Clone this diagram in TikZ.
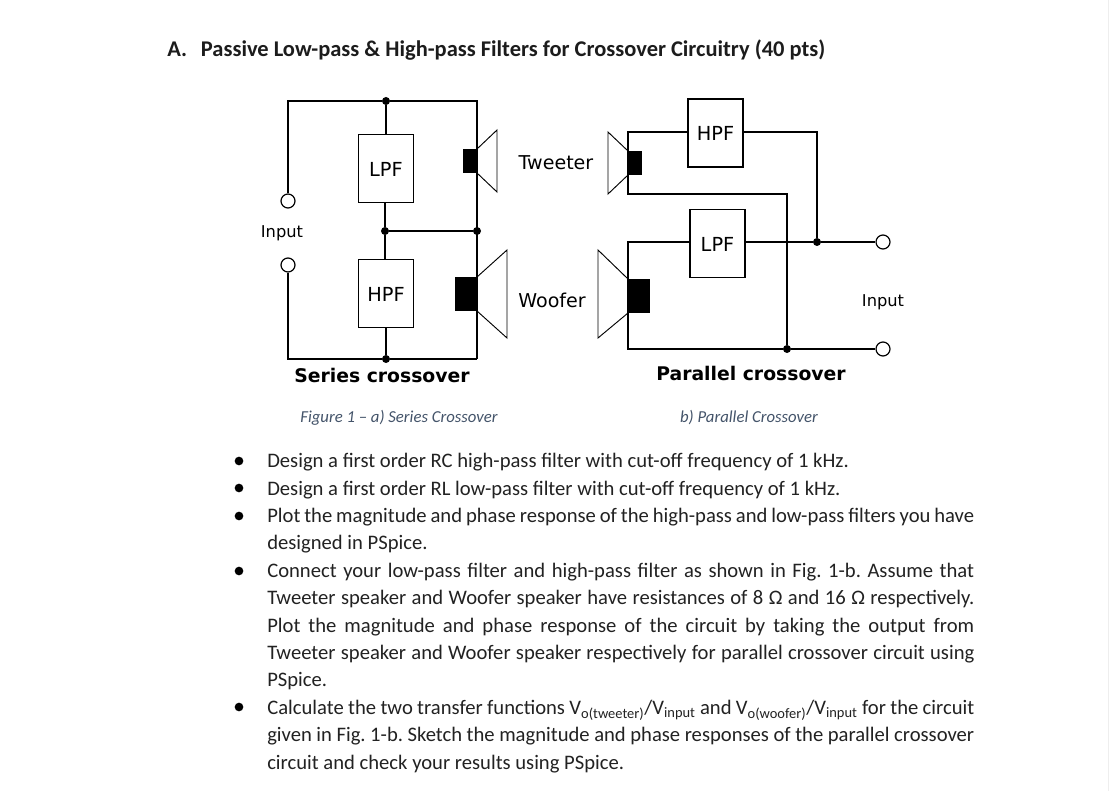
\documentclass[tikz,border=0pt]{standalone}
\usepackage{fontspec}
\setmainfont{Carlito}
\newfontfamily\circuitfont{DejaVu Sans}
\usepackage{xcolor}
\definecolor{cHead}{HTML}{1C1C1C}
\definecolor{cCaption}{HTML}{44546A}
\definecolor{cBody}{HTML}{222222}
\definecolor{cEdge}{HTML}{EEEEEE}
\usetikzlibrary{positioning}
\tikzset{
  wire/.style={line width=1.1pt,draw=black},
  wire-thin/.style={line width=0.8pt,draw=black},
  cone/.style={line width=0.7pt,draw=black},
  magnet/.style={fill=black},
  filter-box/.style={draw=black,line width=1.1pt,minimum width=41pt,minimum height=51pt,
    inner sep=0pt,text height=11.5pt,font=\circuitfont\fontsize{14.5}{16}\selectfont},
  terminal/.style={draw=black,line width=0.9pt,circle,fill=white,minimum size=10.5pt,inner sep=0pt},
  junction/.style={fill=black,circle,minimum size=6pt,inner sep=0pt},
  circuit-label/.style={font=\circuitfont\fontsize{14.3}{16}\selectfont},
  input-label/.style={font=\circuitfont\fontsize{12.2}{14}\selectfont},
  circuit-title/.style={font=\circuitfont\bfseries\fontsize{14.1}{16}\selectfont},
  fig-caption/.style={font=\itshape\fontsize{12.55}{15}\selectfont,text=cCaption},
  bullet-dot/.style={fill=black,circle,minimum size=6.5pt,inner sep=0pt},
  bullet-text/.style={anchor=north west,text width=530.25pt,align=justify,inner sep=0pt,
    text=cBody,font=\frenchspacing\fontsize{15.47}{20.5}\selectfont},
}
\begin{document}
\begin{tikzpicture}[x=0.75pt,y=-0.75pt]
  \useasboundingbox (0,0) rectangle (1109,791);
  \fill[white] (0,0) rectangle (1109,791);
  \draw[cEdge,line width=0.75pt] (1108.5,0) -- (1108.5,791);
  % heading
  \node[anchor=base west,inner sep=0pt,text=cHead,font=\bfseries\fontsize{16.85}{20}\selectfont] (heading) at (167,57)
    {A.\hspace{0.62em}Passive Low-pass \& High-pass Filters for Crossover Circuitry (40 pts)};
  % series crossover
  \node[filter-box] (lpf-s) at (386,168.5) {LPF};
  \node[filter-box] (hpf-s) at (386,293.5) {HPF};
  \node[junction] (s-top) at (386,101) {};
  \node[junction] (s-mid) at (385,231) {};
  \node[junction] (s-right) at (477,231) {};
  \node[junction] (s-bot) at (386,359) {};
  \node[terminal] (s-in-a) at (288,201) {};
  \node[terminal] (s-in-b) at (288,265) {};
  \coordinate (s-tr) at (477,101);
  \coordinate (s-br) at (477,359);
  \draw[wire] (s-in-a) |- (s-top);
  \draw[wire-thin] (s-top) -- (s-tr) -- (s-br);
  \draw[wire] (s-br) -- (s-bot) -| (s-in-b);
  \draw[wire] (s-top) -- (lpf-s);
  \draw[wire] (s-mid |- lpf-s.south) -- (s-mid);
  \draw[wire] (s-mid) -- (s-right);
  \draw[wire] (s-mid) -- (s-mid |- hpf-s.north);
  \draw[wire] (hpf-s) -- (s-bot);
  % series speakers
  \fill[magnet] (463,149) rectangle (477,173);
  \draw[cone] (477,149) -- (497,130) -- (497,192) -- (477,173);
  \fill[magnet] (455,277) rectangle (477,311);
  \draw[cone] (477,277) -- (507,250) -- (507,338) -- (477,311);
  \node[input-label] (s-input) at (282,233) {Input};
  \node[circuit-label] (tweeter) at (556,163) {Tweeter};
  \node[circuit-label] (woofer) at (552,300) {Woofer};
  \node[circuit-title] (s-title) at (382,375) {Series crossover};
  % parallel crossover
  \node[filter-box] (hpf-p) at (715.5,133) {HPF};
  \node[filter-box] (lpf-p) at (717.5,243.5) {LPF};
  \node[junction] (p-top) at (817,242) {};
  \node[junction] (p-bot) at (787,349) {};
  \node[terminal] (p-in-a) at (883,242) {};
  \node[terminal] (p-in-b) at (883,349) {};
  \coordinate (t-a) at (628,132);
  \coordinate (t-b) at (628,194);
  \coordinate (w-a) at (628,242);
  \coordinate (w-b) at (628,349);
  \draw[wire] (hpf-p.west |- t-a) -- (t-a) -- (t-b) -| (p-bot);
  \draw[wire] (hpf-p.east |- t-a) -| (p-top);
  \draw[wire] (lpf-p.west |- w-a) -- (w-a) -- (w-b) -- (p-bot) -- (p-in-b);
  \draw[wire] (lpf-p.east |- w-a) -- (p-top) -- (p-in-a);
  % parallel speakers
  \fill[magnet] (628,151) rectangle (642,175);
  \draw[cone] (628,151) -- (608,132) -- (608,194) -- (628,175);
  \fill[magnet] (628,279) rectangle (650,313);
  \draw[cone] (628,279) -- (598,250) -- (598,338) -- (628,313);
  \node[input-label] (p-input) at (883,302) {Input};
  \node[circuit-title] (p-title) at (751,373) {Parallel crossover};
  % captions
  \node[fig-caption] (cap-a) at (399,418) {Figure 1 -- a) Series Crossover};
  \node[fig-caption] (cap-b) at (749,418) {b) Parallel Crossover};
  % bullets
  \node[bullet-dot] (dot-1) at (239,461) {};
  \node[bullet-dot] (dot-2) at (239,488) {};
  \node[bullet-dot] (dot-3) at (239,516) {};
  \node[bullet-dot] (dot-4) at (239,571) {};
  \node[bullet-dot] (dot-5) at (239,707) {};
  \node[bullet-text] (item-1) at (267,453) {Design a first order RC high-pass filter with cut-off frequency of 1 kHz.};
  \node[bullet-text] (item-2) at (267,481) {Design a first order RL low-pass filter with cut-off frequency of 1 kHz.};
  \node[bullet-text] (item-3) at (267,508) {Plot the magnitude and phase response of the high-pass and low-pass filters you have\linebreak designed in PSpice.};
  \node[bullet-text] (item-4) at (267,563) {Connect your low-pass filter and high-pass filter as shown in Fig. 1-b. Assume that\linebreak
    Tweeter speaker and Woofer speaker have resistances of 8 Ω and 16 Ω respectively.\linebreak
    Plot the magnitude and phase response of the circuit by taking the output from\linebreak
    Tweeter speaker and Woofer speaker respectively for parallel crossover circuit using\linebreak
    PSpice.};
  \node[bullet-text] (item-5) at (267,700) {Calculate the two transfer functions V\textsubscript{o(tweeter)}/V\textsubscript{input} and V\textsubscript{o(woofer)}/V\textsubscript{input} for the circuit\linebreak
    given in Fig. 1-b. Sketch the magnitude and phase responses of the parallel crossover\linebreak
    circuit and check your results using PSpice.};
\end{tikzpicture}
\end{document}
